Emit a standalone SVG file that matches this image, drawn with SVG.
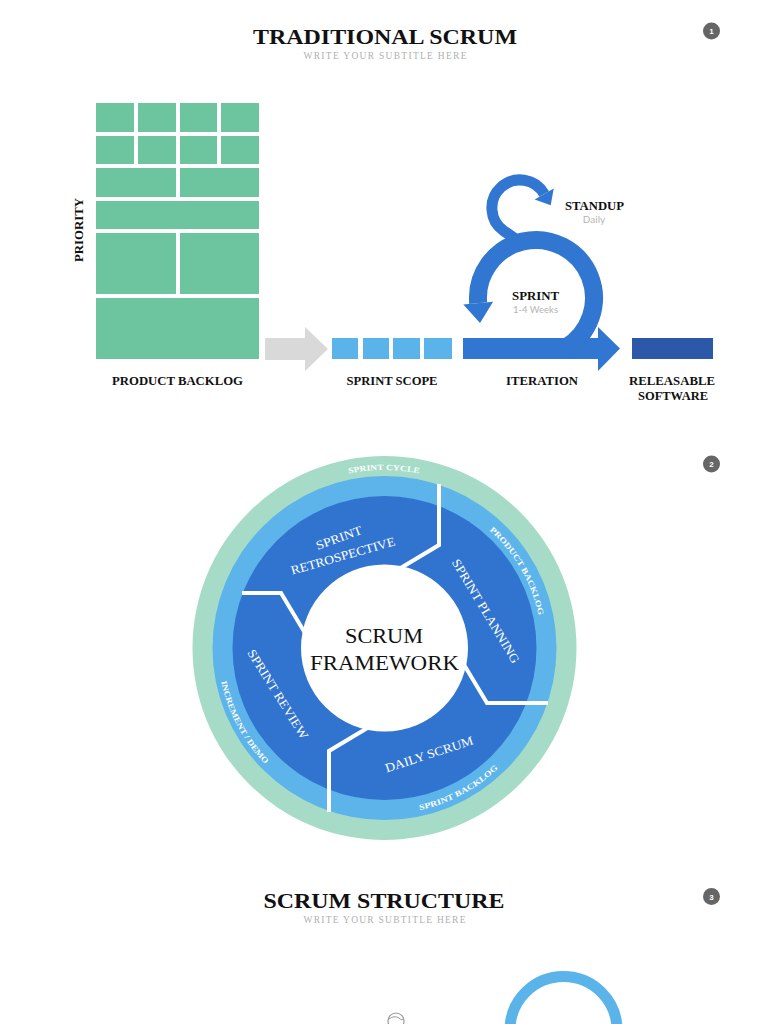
<svg xmlns="http://www.w3.org/2000/svg" width="768" height="1024" viewBox="0 0 768 1024">
<defs>
<style>
.title{font-family:"Liberation Serif","Times New Roman",serif;font-weight:bold;font-size:22px;fill:#111;text-anchor:middle}
.sub{font-family:"Liberation Serif","Times New Roman",serif;font-size:9.5px;fill:#b0b0b0;text-anchor:middle}
.lbl{font-family:"Liberation Serif","Times New Roman",serif;font-weight:bold;font-size:13px;fill:#111;text-anchor:middle}
.note{font-family:Lato,"Liberation Sans",sans-serif;font-size:10px;fill:#b5b5b5;text-anchor:middle}
.badge{fill:#666}
.bnum{font-family:"Liberation Sans",sans-serif;font-weight:bold;font-size:8px;fill:#fff;text-anchor:middle}
.blk{fill:#6dc5a0}
.sq{fill:#5ab4ea}
.seg{font-family:"Liberation Serif","Times New Roman",serif;font-size:12.5px;fill:#fff;text-anchor:middle}
.band{font-family:"Liberation Serif","Times New Roman",serif;font-weight:bold;font-size:8px;fill:#fff;text-anchor:middle}
.big{font-family:"Liberation Serif","Times New Roman",serif;font-size:20px;fill:#111;text-anchor:middle}
.div{fill:none;stroke:#fff;stroke-width:4;stroke-linejoin:miter}
.loop{fill:none;stroke:#3176d1}
</style>
<path id="pCycle" d="M 269.6 511.6 A 178 178 0 0 1 498.4 511.6"/>
<path id="pProd" d="M 438 499.5 A 158 158 0 0 1 539.6 675.4"/>
<path id="pSprB" d="M 349.5 810.4 A 166 166 0 0 0 537.9 710.2"/>
<path id="pInc" d="M 221.6 613.5 A 166 166 0 0 0 321.8 801.9"/>
</defs>
<rect width="768" height="1024" fill="#fff"/>

<!-- Section 1 -->
<g id="header1">
<text class="title" x="385" y="44" textLength="264" lengthAdjust="spacingAndGlyphs">TRADITIONAL SCRUM</text>
<text class="sub" x="385" y="58.5" textLength="163" lengthAdjust="spacing">WRITE YOUR SUBTITLE HERE</text>
</g>
<g id="badge1"><circle class="badge" cx="711.5" cy="31" r="8.5"/><text class="bnum" x="711.5" y="34">1</text></g>

<g id="product-backlog">
<rect class="blk" x="96" y="103" width="38" height="29"/>
<rect class="blk" x="138" y="103" width="38" height="29"/>
<rect class="blk" x="180" y="103" width="37" height="29"/>
<rect class="blk" x="221" y="103" width="38" height="29"/>
<rect class="blk" x="96" y="136" width="38" height="28"/>
<rect class="blk" x="138" y="136" width="38" height="28"/>
<rect class="blk" x="180" y="136" width="37" height="28"/>
<rect class="blk" x="221" y="136" width="38" height="28"/>
<rect class="blk" x="96" y="168" width="80" height="29"/>
<rect class="blk" x="180" y="168" width="79" height="29"/>
<rect class="blk" x="96" y="201" width="163" height="28"/>
<rect class="blk" x="96" y="233" width="80" height="61"/>
<rect class="blk" x="180" y="233" width="79" height="61"/>
<rect class="blk" x="96" y="298" width="163" height="61"/>
<text class="lbl" x="177.5" y="385" textLength="131" lengthAdjust="spacingAndGlyphs">PRODUCT BACKLOG</text>
<text class="lbl" transform="translate(82.5,230) rotate(-90)" x="0" y="0" textLength="64" lengthAdjust="spacingAndGlyphs">PRIORITY</text>
</g>

<g id="connectors">
<polygon points="265,338 305,338 305,327 328,349 305,371 305,360 265,360" fill="#d9d9d9"/>
<polygon points="463,338 598,338 598,327 620,348.5 598,371 598,359 463,359" fill="#3176d1"/>
<path class="loop" stroke-width="18" d="M 565 348.2 A 58 58 0 1 0 478.2 303.1"/>
<polygon points="463.3,304.4 493.1,301.8 480,323" fill="#3176d1"/>
<path class="loop" stroke-width="11" d="M 515.5 239 L 503.9 230.9 A 28 28 0 1 1 544.2 194"/>
<polygon points="553.7,188.5 534.7,199.5 550.7,205.3" fill="#3176d1"/>
</g>

<g id="sprint-scope">
<rect class="sq" x="332" y="338" width="26" height="21"/>
<rect class="sq" x="363" y="338" width="26" height="21"/>
<rect class="sq" x="393" y="338" width="27" height="21"/>
<rect class="sq" x="424" y="338" width="28" height="21"/>
<text class="lbl" x="392" y="385" textLength="91" lengthAdjust="spacingAndGlyphs">SPRINT SCOPE</text>
</g>
<g id="iteration"><text class="lbl" x="542" y="385" textLength="72" lengthAdjust="spacingAndGlyphs">ITERATION</text></g>
<g id="releasable">
<rect x="632" y="338" width="81" height="21" fill="#2b58a9"/>
<text class="lbl" x="672" y="385" textLength="86" lengthAdjust="spacingAndGlyphs">RELEASABLE</text>
<text class="lbl" x="673" y="400" textLength="70" lengthAdjust="spacingAndGlyphs">SOFTWARE</text>
</g>
<g id="standup">
<text class="lbl" x="594.5" y="210" textLength="59" lengthAdjust="spacingAndGlyphs">STANDUP</text>
<text class="note" x="594" y="223">Daily</text>
</g>
<g id="sprint">
<text class="lbl" x="535.5" y="299.5" textLength="47" lengthAdjust="spacingAndGlyphs">SPRINT</text>
<text class="note" x="535.5" y="312.5" textLength="45" lengthAdjust="spacingAndGlyphs">1-4 Weeks</text>
</g>

<!-- Section 2 -->
<g id="badge2"><circle class="badge" cx="711.5" cy="464" r="8.5"/><text class="bnum" x="711.5" y="467">2</text></g>
<g id="scrum-framework">
<circle cx="384.5" cy="648" r="192" fill="#a6dcc7"/>
<circle cx="384.5" cy="648" r="172" fill="#5cb4ea"/>
<circle cx="384.5" cy="648" r="152" fill="#3174cf"/>
<polyline class="div" points="439,484 439,545 399,569"/>
<polyline class="div" points="548,703 487,703 463,663"/>
<polyline class="div" points="329,812 329,751 369,727"/>
<polyline class="div" points="242,593 281,593 305,633"/>
<circle cx="384.5" cy="648" r="83.5" fill="#fff"/>
<text class="big" x="384" y="643" textLength="78" lengthAdjust="spacingAndGlyphs">SCRUM</text>
<text class="big" x="384.5" y="669.5" textLength="149" lengthAdjust="spacingAndGlyphs">FRAMEWORK</text>
</g>
<g id="sprint-cycle"><text class="band" textLength="71" lengthAdjust="spacingAndGlyphs"><textPath href="#pCycle" startOffset="50%">SPRINT CYCLE</textPath></text></g>
<g id="product-backlog-band"><text class="band" textLength="100" lengthAdjust="spacingAndGlyphs"><textPath href="#pProd" startOffset="50%">PRODUCT BACKLOG</textPath></text></g>
<g id="sprint-backlog-band"><text class="band" textLength="90" lengthAdjust="spacingAndGlyphs"><textPath href="#pSprB" startOffset="50%">SPRINT BACKLOG</textPath></text></g>
<g id="increment-band"><text class="band" textLength="95" lengthAdjust="spacingAndGlyphs"><textPath href="#pInc" startOffset="50%">INCREMENT / DEMO</textPath></text></g>
<g id="sprint-retrospective">
<text class="seg" transform="translate(339,538) rotate(-20)" x="0" y="4" textLength="48" lengthAdjust="spacingAndGlyphs">SPRINT</text>
<text class="seg" transform="translate(343,556) rotate(-16)" x="0" y="4" textLength="108" lengthAdjust="spacingAndGlyphs">RETROSPECTIVE</text>
</g>
<g id="sprint-planning"><text class="seg" transform="translate(486,611) rotate(59)" x="0" y="4.5" textLength="119" lengthAdjust="spacingAndGlyphs">SPRINT PLANNING</text></g>
<g id="daily-scrum"><text class="seg" transform="translate(429,754) rotate(-18)" x="0" y="4.5" textLength="92" lengthAdjust="spacingAndGlyphs">DAILY SCRUM</text></g>
<g id="sprint-review"><text class="seg" transform="translate(278,694) rotate(58)" x="0" y="4.5" textLength="103" lengthAdjust="spacingAndGlyphs">SPRINT REVIEW</text></g>

<!-- Section 3 -->
<g id="header3">
<text class="title" x="384" y="907.5" textLength="241" lengthAdjust="spacingAndGlyphs">SCRUM STRUCTURE</text>
<text class="sub" x="384.5" y="923" textLength="162" lengthAdjust="spacing">WRITE YOUR SUBTITLE HERE</text>
</g>
<g id="badge3"><circle class="badge" cx="711.5" cy="896.5" r="8.5"/><text class="bnum" x="711.5" y="899.5">3</text></g>
<g id="structure-ring"><circle cx="563.5" cy="1030" r="53.5" fill="none" stroke="#5ab4ea" stroke-width="11"/></g>
<g id="globe-icon"><circle cx="396" cy="1021" r="8" fill="none" stroke="#9a9a9a" stroke-width="1.2"/><path d="M 389 1019 Q 394 1015 399 1018 Q 401 1021 404 1019" fill="none" stroke="#9a9a9a" stroke-width="1"/></g>
</svg>
